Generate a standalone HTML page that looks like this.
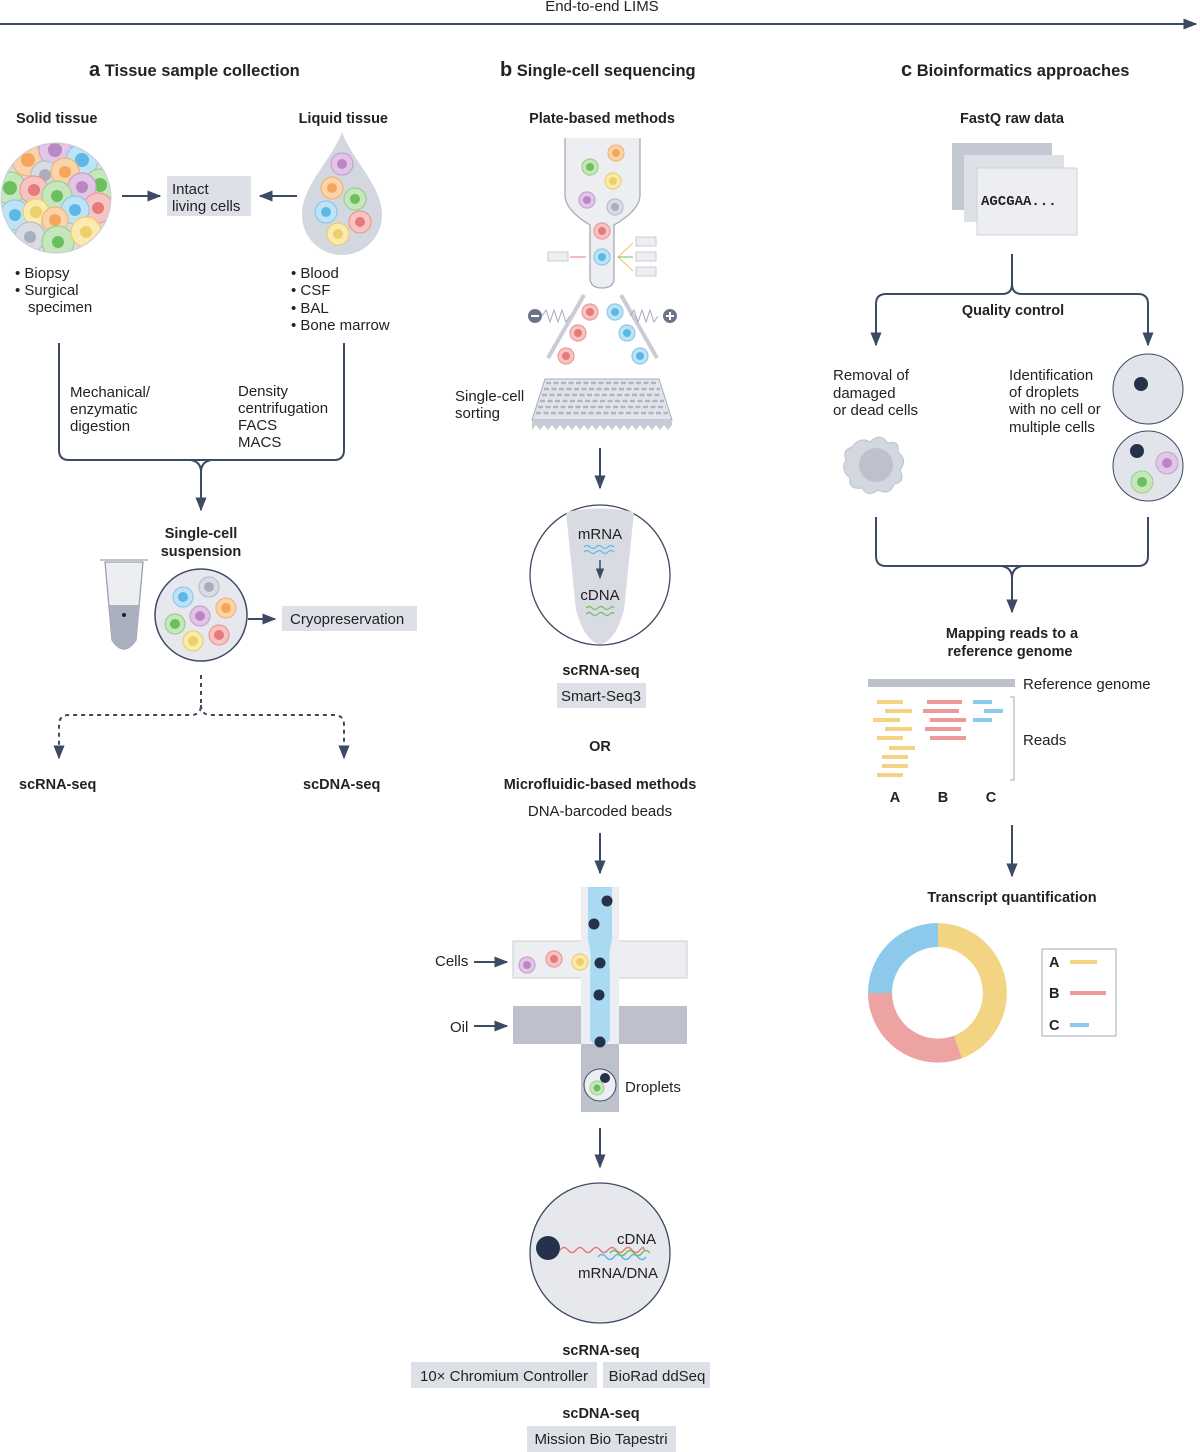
<!DOCTYPE html>
<html><head><meta charset="utf-8"><style>
html,body{margin:0;padding:0;background:#fff}
svg{display:block}
text{font-family:"Liberation Sans",sans-serif;font-size:15px;fill:#222}
.b{font-weight:bold;font-size:14.5px}
.t{font-weight:bold;font-size:16.5px}
</style></head><body>
<svg width="1200" height="1452" viewBox="0 0 1200 1452" xmlns="http://www.w3.org/2000/svg">
<defs>
<marker id="ar" viewBox="0 0 10 10" refX="9" refY="5" markerWidth="7" markerHeight="7" orient="auto-start-reverse"><path d="M0,1 L10,5 L0,9 Z" fill="#3d4a63"/></marker>
<clipPath id="ct"><circle cx="56" cy="198" r="55"/></clipPath>
</defs>
<g stroke="#3d4a63" stroke-width="2" fill="none">
<line x1="0" y1="24" x2="1196" y2="24" marker-end="url(#ar)"/>
<line x1="122" y1="196" x2="160" y2="196" marker-end="url(#ar)"/>
<line x1="297" y1="196" x2="260" y2="196" marker-end="url(#ar)"/>
<path d="M59,343 V450 Q59,460 69,460 H334 Q344,460 344,450 V343"/>
<path d="M191,460 Q201,462 201,472 V510" marker-end="url(#ar)"/>
<path d="M211,460 Q201,462 201,472"/>
<line x1="248" y1="619" x2="275" y2="619" marker-end="url(#ar)"/>
<path d="M201,675 V705 Q201,715 191,715 H69 Q59,715 59,725 V758" stroke-dasharray="4,4" marker-end="url(#ar)"/>
<path d="M201,705 Q201,715 211,715 H334 Q344,715 344,725 V758" stroke-dasharray="4,4" marker-end="url(#ar)"/>
<line x1="600" y1="448" x2="600" y2="488" marker-end="url(#ar)"/>
<line x1="600" y1="833" x2="600" y2="873" marker-end="url(#ar)"/>
<line x1="600" y1="1128" x2="600" y2="1167" marker-end="url(#ar)"/>
<line x1="474" y1="962" x2="507" y2="962" marker-end="url(#ar)"/>
<line x1="474" y1="1026" x2="507" y2="1026" marker-end="url(#ar)"/>
<path d="M1012,254 V284 Q1012,294 1002,294 H886 Q876,294 876,304 V345" marker-end="url(#ar)"/>
<path d="M1012,284 Q1012,294 1022,294 H1138 Q1148,294 1148,304 V345" marker-end="url(#ar)"/>
<path d="M876,517 V556 Q876,566 886,566 H1138 Q1148,566 1148,556 V517"/>
<path d="M1002,566 Q1012,568 1012,578 V612" marker-end="url(#ar)"/>
<path d="M1022,566 Q1012,568 1012,578"/>
<line x1="1012" y1="825" x2="1012" y2="876" marker-end="url(#ar)"/>
</g>
<text x="602" y="11" text-anchor="middle">End-to-end LIMS</text>

<text x="89" y="76" class="t"><tspan font-size="20">a</tspan> Tissue sample collection</text>
<text x="500" y="76" class="t"><tspan font-size="20">b</tspan> Single-cell sequencing</text>
<text x="901" y="76" class="t"><tspan font-size="20">c</tspan> Bioinformatics approaches</text>

<text x="16" y="123" class="b">Solid tissue</text>
<text x="388" y="123" class="b" text-anchor="end">Liquid tissue</text>
<g clip-path="url(#ct)">
<circle cx="56" cy="198" r="56" fill="#d9dce4"/>
<g stroke-width="1.2">
<circle cx="28" cy="160" r="16" fill="#fbd3a8" stroke="#f0b47a"/><circle cx="28" cy="160" r="7" fill="#f5a65b"/>
<circle cx="55" cy="150" r="16" fill="#e3c6e7" stroke="#c9a0cf"/><circle cx="55" cy="150" r="7" fill="#b987c2"/>
<circle cx="82" cy="160" r="16" fill="#bfe3f6" stroke="#8cc9ea"/><circle cx="82" cy="160" r="7" fill="#5cb8e6"/>
<circle cx="100" cy="185" r="16" fill="#c6e6bb" stroke="#9ccf8c"/><circle cx="100" cy="185" r="7" fill="#6cbf5e"/>
<circle cx="10" cy="188" r="16" fill="#c6e6bb" stroke="#9ccf8c"/><circle cx="10" cy="188" r="7" fill="#6cbf5e"/>
<circle cx="45" cy="175" r="14" fill="#d9dce4" stroke="#b9bdc9"/><circle cx="45" cy="175" r="6" fill="#a9aebc"/>
<circle cx="65" cy="172" r="14" fill="#fbd3a8" stroke="#f0b47a"/><circle cx="65" cy="172" r="6" fill="#f5a65b"/>
<circle cx="82" cy="187" r="14" fill="#e3c6e7" stroke="#c9a0cf"/><circle cx="82" cy="187" r="6" fill="#b987c2"/>
<circle cx="34" cy="190" r="14" fill="#f8c3c3" stroke="#eb9a9a"/><circle cx="34" cy="190" r="6" fill="#e57b7b"/>
<circle cx="57" cy="196" r="15" fill="#c6e6bb" stroke="#9ccf8c"/><circle cx="57" cy="196" r="6" fill="#6cbf5e"/>
<circle cx="98" cy="208" r="15" fill="#f8c3c3" stroke="#eb9a9a"/><circle cx="98" cy="208" r="6" fill="#e57b7b"/>
<circle cx="15" cy="215" r="15" fill="#bfe3f6" stroke="#8cc9ea"/><circle cx="15" cy="215" r="6" fill="#5cb8e6"/>
<circle cx="36" cy="212" r="13" fill="#faeab0" stroke="#ecd06a"/><circle cx="36" cy="212" r="6" fill="#ecd06a"/>
<circle cx="75" cy="210" r="14" fill="#bfe3f6" stroke="#8cc9ea"/><circle cx="75" cy="210" r="6" fill="#5cb8e6"/>
<circle cx="55" cy="220" r="13" fill="#fbd3a8" stroke="#f0b47a"/><circle cx="55" cy="220" r="6" fill="#f5a65b"/>
<circle cx="30" cy="237" r="15" fill="#d9dce4" stroke="#b9bdc9"/><circle cx="30" cy="237" r="6" fill="#a9aebc"/>
<circle cx="58" cy="242" r="16" fill="#c6e6bb" stroke="#9ccf8c"/><circle cx="58" cy="242" r="6" fill="#6cbf5e"/>
<circle cx="86" cy="232" r="15" fill="#faeab0" stroke="#ecd06a"/><circle cx="86" cy="232" r="6" fill="#ecd06a"/>
</g></g>
<circle cx="56" cy="198" r="55" fill="none" stroke="#c9ccd6" stroke-width="1"/>
<rect x="167" y="176" width="84" height="40" fill="#dde0e6"/>
<text x="172" y="194">Intact</text><text x="172" y="211">living cells</text>
<path d="M342,132 C352,160 382,185 382,215 A40,40 0 0 1 302,215 C302,185 332,160 342,132 Z" fill="#d3d7df"/>
<g stroke-width="1.2">
<circle cx="342" cy="164" r="11" fill="#e3c6e7" stroke="#c9a0cf"/><circle cx="342" cy="164" r="5" fill="#b987c2"/>
<circle cx="332" cy="188" r="11" fill="#fbd3a8" stroke="#f0b47a"/><circle cx="332" cy="188" r="5" fill="#f5a65b"/>
<circle cx="355" cy="199" r="11" fill="#c6e6bb" stroke="#9ccf8c"/><circle cx="355" cy="199" r="5" fill="#6cbf5e"/>
<circle cx="326" cy="212" r="11" fill="#bfe3f6" stroke="#8cc9ea"/><circle cx="326" cy="212" r="5" fill="#5cb8e6"/>
<circle cx="360" cy="222" r="11" fill="#f8c3c3" stroke="#eb9a9a"/><circle cx="360" cy="222" r="5" fill="#e57b7b"/>
<circle cx="338" cy="234" r="11" fill="#faeab0" stroke="#ecd06a"/><circle cx="338" cy="234" r="5" fill="#ecd06a"/>
</g>
<text x="15" y="278">• Biopsy</text><text x="15" y="295">• Surgical</text><text x="28" y="312">specimen</text>
<text x="291" y="278">• Blood</text><text x="291" y="295">• CSF</text><text x="291" y="313">• BAL</text><text x="291" y="330">• Bone marrow</text>
<text x="70" y="397">Mechanical/</text><text x="70" y="414">enzymatic</text><text x="70" y="431">digestion</text>
<text x="238" y="396">Density</text><text x="238" y="413">centrifugation</text><text x="238" y="430">FACS</text><text x="238" y="447">MACS</text>
<text x="201" y="538" class="b" text-anchor="middle">Single-cell</text><text x="201" y="556" class="b" text-anchor="middle">suspension</text>
<path d="M100,560 H148 M105,562 H143 L136,640 Q124,658 112,640 Z" fill="#eceef2" stroke="#9aa0ae" stroke-width="1.3"/>
<path d="M109,605 H140 L136,640 Q124,658 112,640 Z" fill="#aab0bd"/>
<circle cx="124" cy="615" r="2" fill="#222"/>
<circle cx="201" cy="615" r="46" fill="#e6e8ed" stroke="#3d4a63" stroke-width="1.5"/>
<g stroke-width="1.2">
<circle cx="209" cy="587" r="10" fill="#d9dce4" stroke="#b9bdc9"/><circle cx="209" cy="587" r="5" fill="#a9aebc"/>
<circle cx="183" cy="597" r="10" fill="#bfe3f6" stroke="#8cc9ea"/><circle cx="183" cy="597" r="5" fill="#5cb8e6"/>
<circle cx="226" cy="608" r="10" fill="#fbd3a8" stroke="#f0b47a"/><circle cx="226" cy="608" r="5" fill="#f5a65b"/>
<circle cx="200" cy="616" r="10" fill="#e3c6e7" stroke="#c9a0cf"/><circle cx="200" cy="616" r="5" fill="#b987c2"/>
<circle cx="175" cy="624" r="10" fill="#c6e6bb" stroke="#9ccf8c"/><circle cx="175" cy="624" r="5" fill="#6cbf5e"/>
<circle cx="219" cy="635" r="10" fill="#f8c3c3" stroke="#eb9a9a"/><circle cx="219" cy="635" r="5" fill="#e57b7b"/>
<circle cx="193" cy="641" r="10" fill="#faeab0" stroke="#ecd06a"/><circle cx="193" cy="641" r="5" fill="#ecd06a"/>
</g>
<rect x="282" y="606" width="135" height="25" fill="#dde0e6"/>
<text x="290" y="624">Cryopreservation</text>
<text x="19" y="789" class="b">scRNA-seq</text>
<text x="303" y="789" class="b">scDNA-seq</text>

<text x="602" y="123" class="b" text-anchor="middle">Plate-based methods</text>
<path d="M565,138 V195 Q565,210 590,225 V278 Q590,288 602,288 Q614,288 614,278 V225 Q640,210 640,195 V138" fill="#eceef2" stroke="#a6abb8" stroke-width="1.3"/>
<g stroke-width="1.2">
<circle cx="616" cy="153" r="8" fill="#fbd3a8" stroke="#f0b47a"/><circle cx="616" cy="153" r="4" fill="#f5a65b"/>
<circle cx="590" cy="167" r="8" fill="#c6e6bb" stroke="#9ccf8c"/><circle cx="590" cy="167" r="4" fill="#6cbf5e"/>
<circle cx="613" cy="181" r="8" fill="#faeab0" stroke="#ecd06a"/><circle cx="613" cy="181" r="4" fill="#ecd06a"/>
<circle cx="587" cy="200" r="8" fill="#e3c6e7" stroke="#c9a0cf"/><circle cx="587" cy="200" r="4" fill="#b987c2"/>
<circle cx="615" cy="207" r="8" fill="#d9dce4" stroke="#b9bdc9"/><circle cx="615" cy="207" r="4" fill="#a9aebc"/>
<circle cx="602" cy="231" r="8" fill="#f8c3c3" stroke="#eb9a9a"/><circle cx="602" cy="231" r="4" fill="#e57b7b"/>
<circle cx="602" cy="257" r="8" fill="#bfe3f6" stroke="#8cc9ea"/><circle cx="602" cy="257" r="4" fill="#5cb8e6"/>
<circle cx="590" cy="312" r="8" fill="#f8c3c3" stroke="#eb9a9a"/><circle cx="590" cy="312" r="4" fill="#e57b7b"/>
<circle cx="578" cy="333" r="8" fill="#f8c3c3" stroke="#eb9a9a"/><circle cx="578" cy="333" r="4" fill="#e57b7b"/>
<circle cx="566" cy="356" r="8" fill="#f8c3c3" stroke="#eb9a9a"/><circle cx="566" cy="356" r="4" fill="#e57b7b"/>
<circle cx="615" cy="312" r="8" fill="#bfe3f6" stroke="#8cc9ea"/><circle cx="615" cy="312" r="4" fill="#5cb8e6"/>
<circle cx="627" cy="333" r="8" fill="#bfe3f6" stroke="#8cc9ea"/><circle cx="627" cy="333" r="4" fill="#5cb8e6"/>
<circle cx="640" cy="356" r="8" fill="#bfe3f6" stroke="#8cc9ea"/><circle cx="640" cy="356" r="4" fill="#5cb8e6"/>
</g>
<rect x="548" y="252" width="20" height="9" fill="#eceef2" stroke="#c9ccd6"/>
<line x1="570" y1="257" x2="586" y2="257" stroke="#e57b7b"/>
<rect x="636" y="237" width="20" height="9" fill="#eceef2" stroke="#c9ccd6"/>
<rect x="636" y="252" width="20" height="9" fill="#eceef2" stroke="#c9ccd6"/>
<rect x="636" y="267" width="20" height="9" fill="#eceef2" stroke="#c9ccd6"/>
<path d="M633,243 L618,257 L633,271" fill="none" stroke="#f5c26b"/><line x1="618" y1="257" x2="633" y2="257" stroke="#6cbf5e"/>
<line x1="584" y1="295" x2="548" y2="358" stroke="#c9ccd6" stroke-width="4"/>
<line x1="621" y1="295" x2="657" y2="358" stroke="#c9ccd6" stroke-width="4"/>
<path d="M542,316 l4,-6 l4,12 l4,-12 l4,12 l4,-12 l4,12 l4,-6" fill="none" stroke="#a6abb8"/>
<path d="M630,316 l4,-6 l4,12 l4,-12 l4,12 l4,-12 l4,12 l4,-6" fill="none" stroke="#a6abb8"/>
<circle cx="535" cy="316" r="7" fill="#6b7489"/><rect x="531" y="315" width="8" height="2" fill="#fff"/>
<circle cx="670" cy="316" r="7" fill="#6b7489"/><rect x="666" y="315" width="8" height="2" fill="#fff"/><rect x="669" y="312" width="2" height="8" fill="#fff"/>
<path d="M545,379 H659 L672,420 H532 Z" fill="#e1e4ea" stroke="#a6abb8"/>
<path d="M532,420 H672 V425 L668,430 L664,425 L660,430 L656,425 L652,430 L648,425 L644,430 L640,425 L636,430 L632,425 L628,430 L624,425 L620,430 L616,425 L612,430 L608,425 L604,430 L600,425 L596,430 L592,425 L588,430 L584,425 L580,430 L576,425 L572,430 L568,425 L564,430 L560,425 L556,430 L552,425 L548,430 L544,425 L540,430 L536,425 L532,430 Z" fill="#c9ccd6"/>
<g stroke="#b0b5c3" stroke-width="2.5" stroke-dasharray="5,2.5">
<line x1="546" y1="383" x2="658" y2="383"/><line x1="544" y1="389" x2="660" y2="389"/><line x1="542" y1="395" x2="662" y2="395"/><line x1="540" y1="401" x2="664" y2="401"/><line x1="538" y1="407" x2="666" y2="407"/><line x1="536" y1="413" x2="668" y2="413"/>
</g>
<text x="455" y="401">Single-cell</text><text x="455" y="418">sorting</text>
<circle cx="600" cy="575" r="70" fill="#fff" stroke="#3d4a63" stroke-width="1.3"/>
<path d="M566,512 Q600,505 634,512 L624,610 Q615,642 600,644 Q585,642 576,610 Z" fill="#d8dbe2"/>
<text x="600" y="539" text-anchor="middle">mRNA</text>
<path d="M584,547 q3,-3 6,0 t6,0 t6,0 t6,0 t6,0 M584,552 q3,-3 6,0 t6,0 t6,0 t6,0 t6,0" fill="none" stroke="#5cb8e6" stroke-width="1.2"/>
<line x1="600" y1="560" x2="600" y2="578" stroke="#3d4a63" stroke-width="1.5" marker-end="url(#ar)"/>
<text x="600" y="600" text-anchor="middle">cDNA</text>
<path d="M586,608 q3,-3 6,0 t6,0 t6,0 t6,0 t4,0 M586,614 q3,-3 6,0 t6,0 t6,0 t6,0 t4,0" fill="none" stroke="#6cbf5e" stroke-width="1.2"/>
<text x="601" y="675" class="b" text-anchor="middle">scRNA-seq</text>
<rect x="557" y="683" width="89" height="25" fill="#dde0e6"/>
<text x="601" y="701" text-anchor="middle">Smart-Seq3</text>
<text x="600" y="751" class="b" text-anchor="middle">OR</text>
<text x="600" y="789" class="b" text-anchor="middle">Microfluidic-based methods</text>
<text x="600" y="816" text-anchor="middle">DNA-barcoded beads</text>
<rect x="513" y="941" width="174" height="37" fill="#eceef2" stroke="#c9ccd6"/>
<rect x="513" y="1006" width="174" height="38" fill="#bcc1cc"/>
<rect x="581" y="1044" width="38" height="68" fill="#bcc1cc"/>
<rect x="581" y="887" width="38" height="157" fill="#eceef2"/>
<path d="M581,1006 Q594,1025 581,1044 Z M619,1006 Q606,1025 619,1044 Z" fill="#eceef2"/>
<path d="M588,887 H612 V940 Q608,955 610,970 V1040 Q600,1052 590,1040 V970 Q592,955 588,940 Z" fill="#a9daf2"/>
<g fill="#26324a">
<circle cx="607" cy="901" r="5.5"/><circle cx="594" cy="924" r="5.5"/><circle cx="600" cy="963" r="5.5"/><circle cx="599" cy="995" r="5.5"/><circle cx="600" cy="1042" r="5.5"/>
</g>
<g stroke-width="1.2">
<circle cx="527" cy="965" r="8" fill="#e3c6e7" stroke="#c9a0cf"/><circle cx="527" cy="965" r="4" fill="#b987c2"/>
<circle cx="554" cy="959" r="8" fill="#f8c3c3" stroke="#eb9a9a"/><circle cx="554" cy="959" r="4" fill="#e57b7b"/>
<circle cx="580" cy="962" r="8" fill="#faeab0" stroke="#ecd06a"/><circle cx="580" cy="962" r="4" fill="#ecd06a"/>
</g>
<circle cx="600" cy="1085" r="16" fill="#eceef2" stroke="#3d4a63" stroke-width="1"/>
<circle cx="597" cy="1088" r="7" fill="#c6e6bb" stroke="#9ccf8c"/><circle cx="597" cy="1088" r="3.5" fill="#6cbf5e"/>
<circle cx="605" cy="1078" r="5" fill="#26324a"/>
<text x="435" y="966">Cells</text><text x="450" y="1032">Oil</text>
<text x="625" y="1092">Droplets</text>
<circle cx="600" cy="1253" r="70" fill="#e6e8ed" stroke="#3d4a63" stroke-width="1.3"/>
<circle cx="548" cy="1248" r="12" fill="#26324a"/>
<path d="M560,1250 q4,-5 8,0 t8,0 t8,0 t8,0 t8,0 t8,0 t8,0 t8,0 t8,0 t8,0 t4,0" fill="none" stroke="#e57b7b" stroke-width="1.5"/>
<path d="M598,1257 q4,-5 8,0 t8,0 t8,0 t8,0 t8,0 t8,0" fill="none" stroke="#5cb8e6" stroke-width="1.5"/>
<path d="M610,1253 q4,-5 8,0 t8,0 t8,0 t8,0 t8,0" fill="none" stroke="#6cbf5e" stroke-width="1.5"/>
<text x="617" y="1244">cDNA</text><text x="578" y="1278">mRNA/DNA</text>
<text x="601" y="1355" class="b" text-anchor="middle">scRNA-seq</text>
<rect x="411" y="1362" width="186" height="26" fill="#dde0e6"/>
<text x="504" y="1381" text-anchor="middle">10× Chromium Controller</text>
<rect x="603" y="1362" width="107" height="26" fill="#dde0e6"/>
<text x="657" y="1381" text-anchor="middle">BioRad ddSeq</text>
<text x="601" y="1418" class="b" text-anchor="middle">scDNA-seq</text>
<rect x="527" y="1426" width="149" height="26" fill="#dde0e6"/>
<text x="601" y="1444" text-anchor="middle">Mission Bio Tapestri</text>

<text x="1012" y="123" class="b" text-anchor="middle">FastQ raw data</text>
<rect x="952" y="143" width="100" height="67" fill="#c3c8d3"/>
<rect x="964" y="155" width="100" height="67" fill="#dde0e6"/>
<rect x="977" y="168" width="100" height="67" fill="#eceef2" stroke="#d0d3da"/>
<text x="981" y="205" style="font-family:'Liberation Mono',monospace;font-weight:bold;font-size:14px">AGCGAA...</text>
<text x="1013" y="315" class="b" text-anchor="middle">Quality control</text>
<text x="833" y="380">Removal of</text><text x="833" y="398">damaged</text><text x="833" y="415">or dead cells</text>
<text x="1009" y="380">Identification</text><text x="1009" y="397">of droplets</text><text x="1009" y="414">with no cell or</text><text x="1009" y="432">multiple cells</text>
<path d="M852,447 Q860,436 870,442 Q880,432 888,443 Q900,440 898,452 Q908,460 900,470 Q906,482 894,484 Q890,496 878,490 Q868,498 862,488 Q848,490 850,478 Q840,470 846,460 Q842,450 852,447 Z" fill="#d3d7df" stroke="#bcc1cc"/>
<circle cx="876" cy="465" r="17" fill="#bcc1cc"/>
<circle cx="1148" cy="389" r="35" fill="#e1e4ea" stroke="#3d4a63" stroke-width="1"/>
<circle cx="1141" cy="384" r="7" fill="#26324a"/>
<circle cx="1148" cy="466" r="35" fill="#e1e4ea" stroke="#3d4a63" stroke-width="1"/>
<circle cx="1137" cy="451" r="7" fill="#26324a"/>
<circle cx="1167" cy="463" r="11" fill="#e3c6e7" stroke="#c9a0cf"/><circle cx="1167" cy="463" r="5" fill="#b987c2"/>
<circle cx="1142" cy="482" r="11" fill="#c6e6bb" stroke="#9ccf8c"/><circle cx="1142" cy="482" r="5" fill="#6cbf5e"/>
<text x="1012" y="638" class="b" text-anchor="middle">Mapping reads to a</text>
<text x="1010" y="656" class="b" text-anchor="middle">reference genome</text>
<rect x="868" y="679" width="147" height="8" fill="#bcc1cc"/>
<text x="1023" y="689">Reference genome</text>
<g fill="#f2d482">
<rect x="877" y="700" width="26" height="4"/><rect x="885" y="709" width="27" height="4"/><rect x="873" y="718" width="27" height="4"/><rect x="885" y="727" width="27" height="4"/><rect x="877" y="736" width="26" height="4"/><rect x="889" y="746" width="26" height="4"/><rect x="882" y="755" width="26" height="4"/><rect x="882" y="764" width="26" height="4"/><rect x="877" y="773" width="26" height="4"/>
</g>
<g fill="#eb9a9a">
<rect x="927" y="700" width="35" height="4"/><rect x="923" y="709" width="36" height="4"/><rect x="930" y="718" width="36" height="4"/><rect x="925" y="727" width="36" height="4"/><rect x="930" y="736" width="36" height="4"/>
</g>
<g fill="#8cc9ea">
<rect x="973" y="700" width="19" height="4"/><rect x="984" y="709" width="19" height="4"/><rect x="973" y="718" width="19" height="4"/>
</g>
<path d="M1010,697 H1014 V780 H1010" fill="none" stroke="#a6abb8"/>
<text x="1023" y="745">Reads</text>
<text x="895" y="802" class="b" text-anchor="middle">A</text>
<text x="943" y="802" class="b" text-anchor="middle">B</text>
<text x="991" y="802" class="b" text-anchor="middle">C</text>
<text x="1012" y="902" class="b" text-anchor="middle">Transcript quantification</text>
<g fill="none" stroke-width="24">
<path d="M938,935 A58,58 0 0 1 958,1047" stroke="#f2d482"/>
<path d="M958,1047 A58,58 0 0 1 880,993" stroke="#eea3a3"/>
<path d="M880,993 A58,58 0 0 1 938,935" stroke="#8cc9ea"/>
</g>
<rect x="1042" y="949" width="74" height="87" fill="#fff" stroke="#a6abb8"/>
<text x="1049" y="967" class="b">A</text><rect x="1070" y="960" width="27" height="4" fill="#f2d482"/>
<text x="1049" y="998" class="b">B</text><rect x="1070" y="991" width="36" height="4" fill="#eb9a9a"/>
<text x="1049" y="1030" class="b">C</text><rect x="1070" y="1023" width="19" height="4" fill="#8cc9ea"/>
</svg>
</body></html>
